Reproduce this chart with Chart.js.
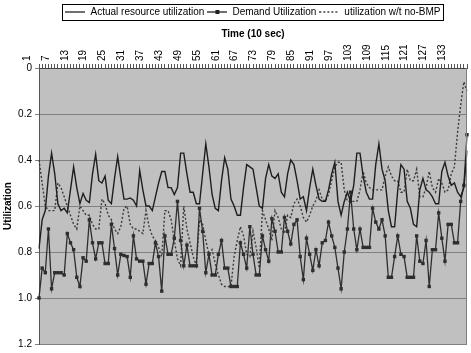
<!DOCTYPE html>
<html>
<head>
<meta charset="utf-8">
<script src="https://cdn.jsdelivr.net/npm/chart.js@4/dist/chart.umd.min.js"></script>
<style>
  html, body { margin: 0; padding: 0; background: #fff; }
  #wrap { width: 471px; height: 353px; }
</style>
</head>
<body>
<div id="wrap"><canvas id="utilChart" width="471" height="353"></canvas></div>
<script>
// series, one value per 10 sec step
const actualUtil = [
  0.785, 0.66, 0.62, 0.47, 0.37, 0.46, 0.59, 0.62, 0.61, 0.63, 0.53, 0.43, 0.52, 0.59, 0.545, 0.575, 0.585, 0.46, 0.375, 0.49, 0.50, 0.47, 0.575, 0.59, 0.48, 0.385, 0.48, 0.57,
  0.57, 0.565, 0.575, 0.60, 0.445, 0.53, 0.60, 0.60, 0.62, 0.56, 0.50, 0.45, 0.45, 0.52, 0.52, 0.55, 0.52, 0.37, 0.37, 0.46, 0.54, 0.54, 0.59, 0.59, 0.46, 0.33, 0.43,
  0.55, 0.61, 0.62, 0.49, 0.39, 0.44, 0.57, 0.60, 0.64, 0.64, 0.52, 0.42, 0.43, 0.44, 0.52, 0.60, 0.61, 0.48, 0.42, 0.47, 0.48, 0.46, 0.54, 0.56, 0.46, 0.40,
  0.42, 0.49, 0.57, 0.56, 0.62, 0.52, 0.44, 0.51, 0.57, 0.58, 0.58, 0.53, 0.46, 0.41, 0.58, 0.64, 0.58, 0.54, 0.58, 0.51, 0.37, 0.37, 0.47, 0.54, 0.57, 0.57, 0.42, 0.33, 0.44,
  0.49, 0.62, 0.69, 0.69, 0.53, 0.42, 0.44, 0.58, 0.61, 0.68, 0.69, 0.53, 0.48, 0.53, 0.54, 0.56, 0.59, 0.59, 0.45, 0.41, 0.47, 0.51, 0.50, 0.54, 0.56, 0.52, 0.36
];
const demandUtil = [
  1.0, 0.87, 0.89, 0.70, 0.96, 0.89, 0.89, 0.89, 0.90, 0.72, 0.76, 0.79, 0.91, 0.95, 0.825, 0.84, 0.66, 0.76, 0.83, 0.76, 0.76, 0.85, 0.85, 0.68, 0.785, 0.90, 0.81, 0.815,
  0.82, 0.91, 0.73, 0.83, 0.84, 0.84, 0.94, 0.85, 0.85, 0.76, 0.82, 0.97, 0.73, 0.81, 0.81, 0.74, 0.58, 0.75, 0.86, 0.77, 0.86, 0.86, 0.86, 0.61, 0.71, 0.89, 0.81,
  0.90, 0.90, 0.81, 0.75, 0.87, 0.87, 0.95, 0.95, 0.95, 0.76, 0.81, 0.87, 0.69, 0.81, 0.90, 0.90, 0.73, 0.79, 0.84, 0.655, 0.71, 0.80, 0.80, 0.65, 0.71, 0.765,
  0.68, 0.66, 0.82, 0.92, 0.74, 0.81, 0.88, 0.79, 0.86, 0.76, 0.75, 0.67, 0.73, 0.78, 0.87, 0.96, 0.80, 0.70, 0.54, 0.70, 0.79, 0.70, 0.78, 0.78, 0.78, 0.61, 0.67, 0.70, 0.66,
  0.73, 0.91, 0.91, 0.82, 0.73, 0.81, 0.82, 0.91, 0.91, 0.91, 0.73, 0.84, 0.85, 0.75, 0.95, 0.79, 0.79, 0.63, 0.74, 0.84, 0.68, 0.68, 0.76, 0.76, 0.58, 0.51, 0.29
];
const noBmpUtil = [
  0.40, 0.50, 0.60, 0.62, 0.62, 0.62, 0.50, 0.52, 0.56, 0.60, 0.64, 0.68, 0.70, 0.60, 0.62, 0.64, 0.64, 0.68, 0.70, 0.70, 0.57, 0.59, 0.64, 0.66, 0.70, 0.72, 0.69, 0.61,
  0.60, 0.68, 0.70, 0.70, 0.71, 0.72, 0.62, 0.69, 0.73, 0.75, 0.78, 0.82, 0.62, 0.62, 0.66, 0.75, 0.83, 0.86, 0.60, 0.70, 0.76, 0.82, 0.86, 0.66, 0.68, 0.75, 0.81,
  0.79, 0.85, 0.90, 0.94, 0.95, 0.95, 0.95, 0.82, 0.75, 0.69, 0.73, 0.81, 0.82, 0.71, 0.78, 0.87, 0.62, 0.66, 0.70, 0.75, 0.62, 0.65, 0.70, 0.72, 0.64, 0.65,
  0.59, 0.57, 0.60, 0.65, 0.67, 0.64, 0.60, 0.575, 0.53, 0.57, 0.58, 0.55, 0.49, 0.43, 0.41, 0.41, 0.53, 0.58, 0.58, 0.58, 0.58, 0.53, 0.45, 0.50, 0.52, 0.53, 0.53, 0.53, 0.53,
  0.47, 0.43, 0.47, 0.49, 0.49, 0.54, 0.54, 0.44, 0.49, 0.49, 0.44, 0.56, 0.56, 0.52, 0.45, 0.52, 0.54, 0.48, 0.50, 0.54, 0.53, 0.46, 0.43, 0.28, 0.16, 0.06, 0.10
];
const timeSteps = Array.from({ length: actualUtil.length }, (_, i) => String(i + 1));
const seriesNames = ["Actual resource utilization", "Demand Utilization", "utilization w/t no-BMP"];
const yTicks = [0, 0.2, 0.4, 0.6, 0.8, 1, 1.2];

const FONT = "'Liberation Sans', Arial, sans-serif";

// little legend samples: line, line with square, dotted line
function legendSample(kind) {
  const c = document.createElement("canvas");
  c.width = 20;
  c.height = 8;
  const g = c.getContext("2d");
  g.strokeStyle = "#222";
  g.lineWidth = 1.3;
  if (kind === "dot") g.setLineDash([2, 2]);
  g.beginPath();
  g.moveTo(0, 4);
  g.lineTo(20, 4);
  g.stroke();
  if (kind === "square") {
    g.fillStyle = "#222";
    g.fillRect(8, 2, 4, 4);
  }
  return c;
}

const plotDecor = {
  id: "plotDecor",
  beforeDraw(chart) {
    const { ctx, chartArea: a } = chart;
    ctx.save();
    ctx.fillStyle = "#c0c0c0";
    ctx.fillRect(a.left, a.top, a.right - a.left, a.bottom - a.top);
    ctx.restore();
  },
  afterDraw(chart) {
    const { ctx, chartArea: a } = chart;
    ctx.save();
    ctx.strokeStyle = "#808080";
    ctx.lineWidth = 1;
    ctx.beginPath();
    ctx.moveTo(Math.round(a.right) - 0.5, a.top);
    ctx.lineTo(Math.round(a.right) - 0.5, a.bottom);
    ctx.stroke();
    // frame round the legend
    const boxes = chart.legend.legendHitBoxes;
    if (boxes && boxes.length) {
      const left = Math.min(...boxes.map(b => b.left)) - 3;
      const right = Math.max(...boxes.map(b => b.left + b.width)) + 3;
      const top = boxes[0].top - 3;
      const h = boxes[0].height + 6;
      ctx.strokeStyle = "#000";
      ctx.strokeRect(Math.round(left) + 0.5, Math.round(top) + 0.5, Math.round(right - left), Math.round(h));
    }
    ctx.restore();
  }
};

new Chart(document.getElementById("utilChart"), {
  type: "line",
  data: {
    labels: timeSteps,
    datasets: [
      {
        label: seriesNames[0],
        data: actualUtil,
        borderColor: "#1e1e1e",
        borderWidth: 1.4,
        pointRadius: 0
      },
      {
        label: seriesNames[1],
        data: demandUtil,
        borderColor: "#2e2e2e",
        backgroundColor: "#2e2e2e",
        borderWidth: 1.3,
        pointStyle: "rect",
        pointRadius: 2.4,
        pointBackgroundColor: "#2e2e2e",
        pointBorderWidth: 0
      },
      {
        label: seriesNames[2],
        data: noBmpUtil,
        borderColor: "#3a3a3a",
        borderWidth: 1.4,
        borderDash: [2, 2],
        pointRadius: 0
      }
    ]
  },
  options: {
    responsive: false,
    animation: false,
    layout: { padding: { top: 4, left: 0, right: 4, bottom: 9 } },
    plugins: {
      tooltip: { enabled: false },
      legend: {
        position: "top",
        fullSize: false,
        labels: {
          usePointStyle: true,
          pointStyleWidth: 20,
          padding: 3,
          color: "#000",
          font: { family: FONT, size: 10 },
          generateLabels(chart) {
            const samples = [legendSample("line"), legendSample("square"), legendSample("dot")];
            return chart.data.datasets.map((ds, i) => ({
              text: ds.label,
              pointStyle: samples[i],
              datasetIndex: i,
              hidden: false,
              lineWidth: 0,
              strokeStyle: "transparent",
              fillStyle: "transparent",
              fontColor: "#000"
            }));
          }
        }
      }
    },
    scales: {
      x: {
        position: "top",
        offset: false,
        afterFit(scale) { scale.height = 41; },
        title: {
          display: true,
          text: "Time (10 sec)",
          color: "#000",
          font: { family: FONT, size: 10, weight: "bold" },
          padding: { top: 1, bottom: 2 }
        },
        grid: { drawOnChartArea: false, color: "#555", tickLength: 4 },
        border: { color: "#444" },
        ticks: {
          autoSkip: false,
          minRotation: 90,
          maxRotation: 90,
          padding: 3,
          color: "#000",
          font: { family: FONT, size: 10 },
          callback(val, idx) { return idx % 6 === 0 ? timeSteps[idx] : ""; }
        }
      },
      y: {
        reverse: true,
        min: 0,
        max: 1.2,
        afterFit(scale) { scale.width = 39; },
        afterBuildTicks(scale) { scale.ticks = yTicks.map(v => ({ value: v })); },
        title: {
          display: true,
          text: "Utilization",
          color: "#000",
          font: { family: FONT, size: 10, weight: "bold" },
          padding: { top: 2, bottom: 0 }
        },
        grid: { color: "#808080", tickLength: 4 },
        border: { color: "#555" },
        ticks: {
          padding: 3,
          color: "#000",
          font: { family: FONT, size: 10 }
        }
      }
    }
  },
  plugins: [plotDecor]
});
</script>
</body>
</html>
